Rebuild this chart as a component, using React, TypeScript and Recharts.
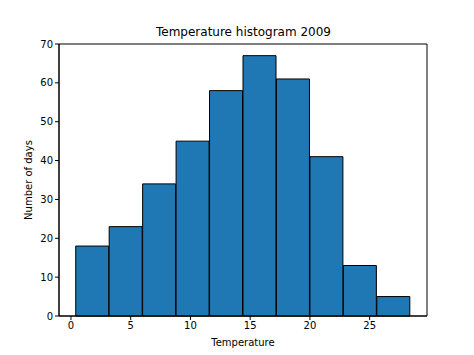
import { BarChart, Bar, XAxis, YAxis, Label, ReferenceArea } from "recharts";

// histogram bins (left edge, width) and counts
const binEdges = [0.4, 3.2, 6.0, 8.8, 11.6, 14.4, 17.2, 20.0, 22.8, 25.6, 28.4];
const counts = [18, 23, 34, 45, 58, 67, 61, 41, 13, 5];
const xTicks = [0, 5, 10, 15, 20, 25];
const yTicks = [0, 10, 20, 30, 40, 50, 60, 70];
const xDomain = [-1, 29.8];
const yDomain = [0, 70];

const data = counts.map((c, i) => ({ mid: (binEdges[i] + binEdges[i + 1]) / 2, count: c }));

const font = "DejaVu Sans, sans-serif";
const tickStyle = { fontSize: 10, fill: "#000", fontFamily: font };

export default function App() {
  return (
    <div style={{ position: "absolute", left: 0, top: 0, width: 474, height: 355, background: "#fff" }}>
      <div
        style={{
          position: "absolute",
          top: 25,
          left: 60,
          width: 367,
          textAlign: "center",
          fontFamily: font,
          fontSize: 12,
          color: "#000",
        }}
      >
        Temperature histogram 2009
      </div>
      <BarChart
        width={474}
        height={355}
        data={data}
        margin={{ top: 44, right: 47, bottom: 0, left: 0 }}
        barCategoryGap={0}
        barGap={0}
      >
        <XAxis
          dataKey="mid"
          type="number"
          domain={xDomain}
          ticks={xTicks}
          height={39}
          tick={tickStyle}
          tickSize={4}
          stroke="#000"
          tickLine={{ stroke: "#000" }}
        >
          <Label value="Temperature" position="insideBottom" offset={9} style={{ fontSize: 10, fill: "#000", fontFamily: font }} />
        </XAxis>
        <YAxis
          domain={yDomain}
          ticks={yTicks}
          width={59}
          tick={tickStyle}
          tickSize={4}
          stroke="#000"
          tickLine={{ stroke: "#000" }}
        >
          <Label value="Number of days" angle={-90} position="center" dx={-1} style={{ fontSize: 10, fill: "#000", fontFamily: font, textAnchor: "middle" }} />
        </YAxis>
        <Bar dataKey="count" fill="#1f77b4" stroke="#000" strokeWidth={1} isAnimationActive={false} />
        <ReferenceArea
          x1={xDomain[0]}
          x2={xDomain[1]}
          y1={yDomain[0]}
          y2={yDomain[1]}
          fill="none"
          fillOpacity={0}
          stroke="#000"
          strokeWidth={1}
          ifOverflow="visible"
        />
      </BarChart>
    </div>
  );
}
